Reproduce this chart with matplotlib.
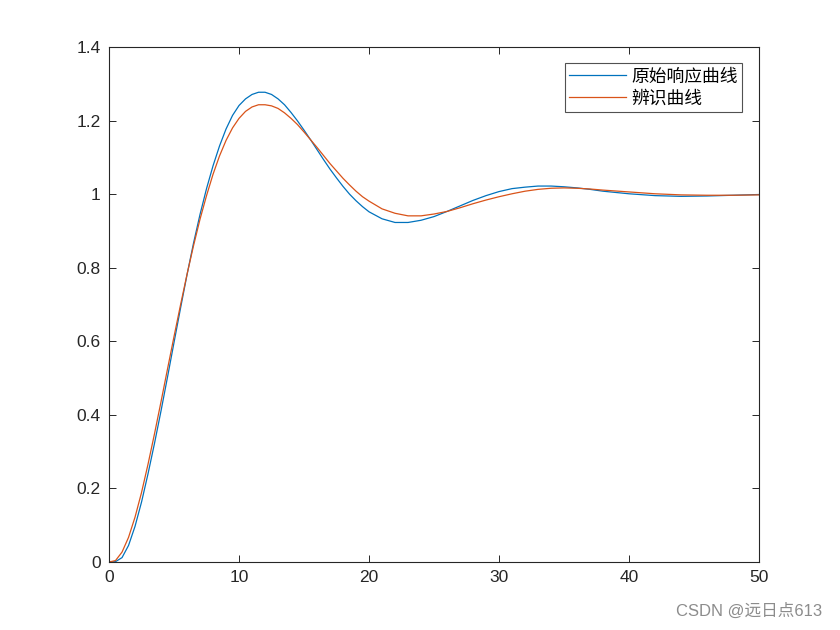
import matplotlib
matplotlib.use("Agg")
import matplotlib.pyplot as plt
from matplotlib.ticker import FuncFormatter

plt.rcParams['font.family'] = ['Liberation Sans', 'Noto Sans CJK SC', 'DejaVu Sans']

# time axis (s)
t = [0, 0.5, 1, 1.5, 2, 2.5, 3, 3.5, 4, 4.5, 5, 5.5, 6, 6.5, 7, 7.5, 8, 8.5, 9, 9.5,
     10, 10.5, 11, 11.5, 12, 12.5, 13, 13.5, 14, 14.5, 15, 15.5, 16, 16.5, 17, 17.5,
     18, 18.5, 19, 19.5, 20, 21, 22, 23, 24, 25, 26, 27, 28, 29, 30, 31, 32, 33,
     34, 35, 36, 37, 38, 40, 42, 44, 46, 48, 50]

# original step response (blue)
y_orig = [0, 0.001, 0.012, 0.045, 0.097, 0.163, 0.240, 0.323, 0.411, 0.503,
          0.597, 0.690, 0.781, 0.867, 0.945, 1.015, 1.077, 1.131, 1.177, 1.214,
          1.241, 1.259, 1.271, 1.277, 1.277, 1.271, 1.259, 1.243, 1.222, 1.199,
          1.174, 1.148, 1.121, 1.094, 1.068, 1.044, 1.021, 1.000, 0.982, 0.966,
          0.952, 0.933, 0.923, 0.923, 0.929, 0.939, 0.953, 0.968, 0.983, 0.996,
          1.007, 1.015, 1.019, 1.022, 1.022, 1.020, 1.017, 1.013, 1.008,
          1.001, 0.996, 0.994, 0.995, 0.997, 0.999]

# identified model response (orange)
y_ident = [0, 0.004, 0.027, 0.067, 0.122, 0.189, 0.266, 0.349, 0.436, 0.525,
           0.613, 0.699, 0.782, 0.860, 0.932, 0.996, 1.054, 1.104, 1.146, 1.180,
           1.206, 1.225, 1.237, 1.243, 1.243, 1.240, 1.233, 1.221, 1.206, 1.189,
           1.169, 1.148, 1.127, 1.105, 1.083, 1.063, 1.043, 1.025, 1.008, 0.993,
           0.981, 0.960, 0.948, 0.941, 0.941, 0.946, 0.953, 0.963, 0.974, 0.984,
           0.993, 1.001, 1.008, 1.013, 1.016, 1.017, 1.016, 1.014, 1.011,
           1.006, 1.001, 0.998, 0.997, 0.997, 0.998]

labels = ['原始响应曲线', '辨识曲线']

fig = plt.figure(figsize=(8.4, 6.3), dpi=100)
ax = fig.add_axes([0.1298, 0.1079, 0.7738, 0.8175])

ax.plot(t, y_orig, color='#0072BD', lw=0.9, label=labels[0])
ax.plot(t, y_ident, color='#D95319', lw=0.9, label=labels[1])

ax.set_xlim(0, 50)
ax.set_ylim(0, 1.4)
ax.set_xticks([0, 10, 20, 30, 40, 50])
ax.set_yticks([0, 0.2, 0.4, 0.6, 0.8, 1.0, 1.2, 1.4])
ax.yaxis.set_major_formatter(FuncFormatter(lambda v, p: '%g' % round(v, 2)))
ax.tick_params(direction='in', length=5, width=0.7, labelsize=12.5,
               top=True, right=True, colors='#262626', pad=6)
for sp in ax.spines.values():
    sp.set_linewidth(0.8)
    sp.set_color('#262626')

leg = ax.legend(loc='upper right', bbox_to_anchor=(0.9745, 0.969),
                frameon=True, fancybox=False, handlelength=3.2, borderpad=0.25,
                labelspacing=0.22, handletextpad=0.3, borderaxespad=0,
                prop={'family': ['Noto Sans CJK SC'], 'size': 12.8})
leg.get_frame().set_edgecolor('#262626')
leg.get_frame().set_linewidth(0.8)

fig.text(0.979, 0.018, 'CSDN @远日点613', ha='right', va='bottom',
         color='#8c8c8c', fontsize=12,
         family=['Liberation Sans', 'Noto Sans CJK SC'])

fig.savefig('out.png', dpi=100)
